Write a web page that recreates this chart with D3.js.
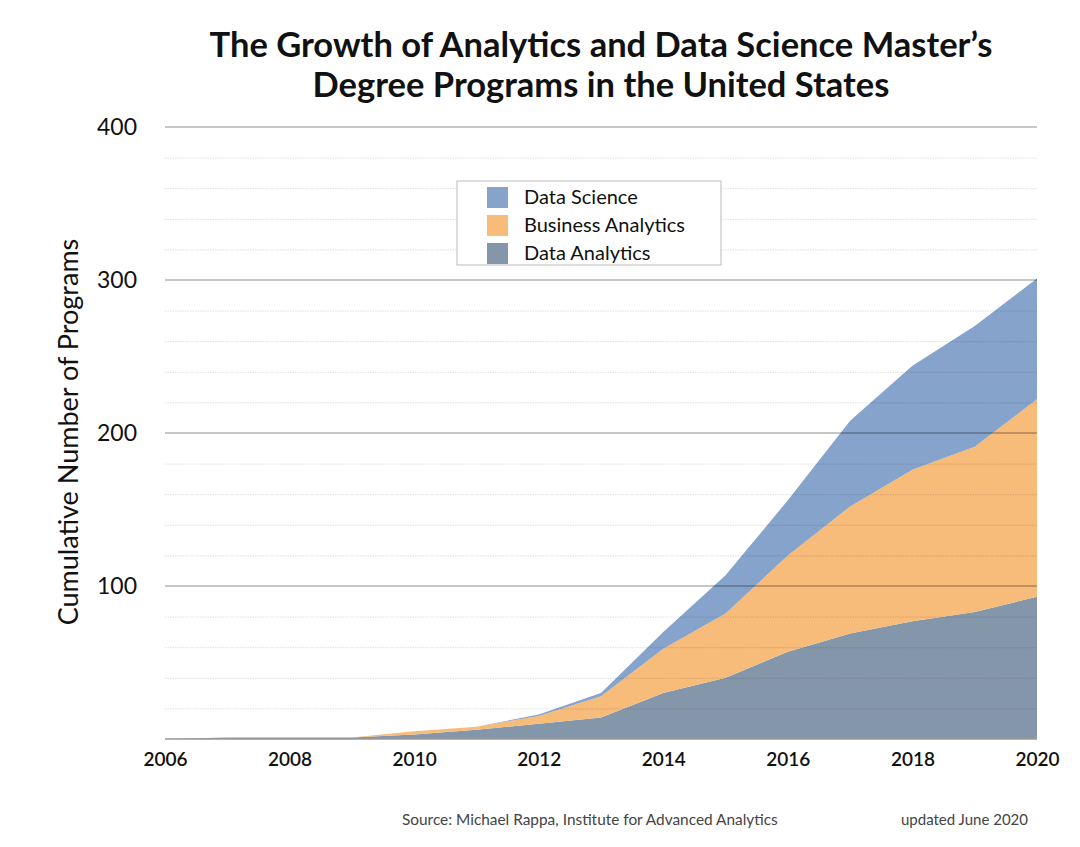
<!DOCTYPE html>
<html>
<head>
<meta charset="utf-8">
<script src="https://cdnjs.cloudflare.com/ajax/libs/d3/7.8.5/d3.min.js"></script>
<style>
  body { margin: 0; background: #fff; }
  svg { font-family: Lato, "Open Sans", sans-serif; }
</style>
</head>
<body>
<div id="chart"></div>
<script>
// cumulative program counts per year
var years = [2006, 2007, 2008, 2009, 2010, 2011, 2012, 2013, 2014, 2015, 2016, 2017, 2018, 2019, 2020];
var dataAnalytics     = [0, 1, 1, 1, 3, 6, 10, 14, 30, 40, 57, 69, 77, 83, 93];
var businessAnalytics = [0, 0, 0, 0, 2, 2, 5, 14, 29, 42, 63, 83, 99, 108, 129];
var dataScience       = [0, 0, 0, 0, 0, 0, 1, 2, 11, 25, 36, 56, 68, 79, 79];
var seriesNames = ["Data Analytics", "Business Analytics", "Data Science"];
var xTicks = [2006, 2008, 2010, 2012, 2014, 2016, 2018, 2020];
var yTicks = [100, 200, 300, 400];

var width = 1080,
    height = 847

var margin = { left: 165, right: 43, top: 127, bottom: 108 }

var svg = d3.select("#chart").append("svg")
    .attr("width", width)
    .attr("height", height)

var x = d3.scaleLinear()
    .domain([2006, 2020])
    .range([margin.left, width - margin.right])

var y = d3.scaleLinear()
    .domain([0, 400])
    .range([height - margin.bottom, margin.top])

var colors = {
    "Data Analytics": "#8496a9",
    "Business Analytics": "#f7bb7a",
    "Data Science": "#85a3cb"
}

var rows = years.map(function(yr, i) {
    return {
        year: yr,
        "Data Analytics": dataAnalytics[i],
        "Business Analytics": businessAnalytics[i],
        "Data Science": dataScience[i]
    }
})

var stacked = d3.stack().keys(seriesNames)(rows)

var area = d3.area()
    .x(function(d) { return x(d.data.year) })
    .y0(function(d) { return y(d[0]) })
    .y1(function(d) { return y(d[1]) })

svg.append("g")
  .selectAll("path")
  .data(stacked)
  .enter().append("path")
    .attr("fill", function(d) { return colors[d.key] })
    .attr("d", area)

// gridlines drawn on top so they show through the areas
var minor = d3.range(20, 400, 20).filter(function(v) { return v % 100 !== 0 })

svg.append("g")
  .selectAll("line")
  .data(minor)
  .enter().append("line")
    .attr("x1", x(2006))
    .attr("x2", x(2020))
    .attr("y1", function(d) { return y(d) + 0.5 })
    .attr("y2", function(d) { return y(d) + 0.5 })
    .attr("stroke", "#000")
    .attr("stroke-opacity", 0.13)
    .attr("stroke-dasharray", "1.5,1")

svg.append("g")
  .selectAll("line")
  .data(yTicks)
  .enter().append("line")
    .attr("x1", x(2006))
    .attr("x2", x(2020))
    .attr("y1", function(d) { return y(d) })
    .attr("y2", function(d) { return y(d) })
    .attr("stroke", "#000")
    .attr("stroke-opacity", 0.3)
    .attr("stroke-width", 1.5)

svg.append("line")
    .attr("x1", x(2006))
    .attr("x2", x(2020))
    .attr("y1", y(0))
    .attr("y2", y(0))
    .attr("stroke", "#999")
    .attr("stroke-width", 1.5)

// axes
var yAxis = svg.append("g")
    .attr("transform", "translate(" + (margin.left - 28) + ",0)")
    .call(d3.axisLeft(y).tickValues(yTicks).tickSize(0).tickPadding(0))
yAxis.select(".domain").remove()
yAxis.selectAll("text")
    .attr("font-size", 23)
    .attr("font-family", "Lato, sans-serif")
    .attr("fill", "#111")

var xAxis = svg.append("g")
    .attr("transform", "translate(0," + y(0) + ")")
    .call(d3.axisBottom(x).tickValues(xTicks).tickFormat(d3.format("d")).tickSize(0).tickPadding(14))
xAxis.select(".domain").remove()
xAxis.selectAll("text")
    .attr("font-size", 19)
    .attr("font-family", "Lato, sans-serif")
    .attr("font-weight", 600)
    .attr("fill", "#111")

svg.append("text")
    .attr("transform", "translate(78," + (y(200) - 1) + ") rotate(-90)")
    .attr("text-anchor", "middle")
    .attr("font-size", 27)
    .attr("fill", "#111")
    .text("Cumulative Number of Programs")

// title
var title = svg.append("text")
    .attr("text-anchor", "middle")
    .attr("font-size", 34.5)
    .attr("font-weight", 700)
    .attr("fill", "#111")
title.append("tspan").attr("x", 601).attr("y", 57)
    .text("The Growth of Analytics and Data Science Master\u2019s")
title.append("tspan").attr("x", 601).attr("y", 97)
    .text("Degree Programs in the United States")

// legend
var legend = svg.append("g")
    .attr("transform", "translate(457,181)")

legend.append("rect")
    .attr("width", 264)
    .attr("height", 84)
    .attr("fill", "#fff")
    .attr("stroke", "#bbb")

var legendKeys = seriesNames.slice().reverse()

var item = legend.selectAll("g")
    .data(legendKeys)
  .enter().append("g")
    .attr("transform", function(d, i) { return "translate(30," + (6 + i * 28) + ")" })

item.append("rect")
    .attr("width", 21)
    .attr("height", 21)
    .attr("fill", function(d) { return colors[d] })

item.append("text")
    .attr("x", 37)
    .attr("y", 17)
    .attr("font-size", 20)
    .attr("fill", "#111")
    .text(function(d) { return d })

// footer
svg.append("text")
    .attr("x", 402)
    .attr("y", 825)
    .attr("font-size", 15.4)
    .attr("fill", "#444")
    .text("Source: Michael Rappa, Institute for Advanced Analytics")

svg.append("text")
    .attr("x", 1028)
    .attr("y", 825)
    .attr("text-anchor", "end")
    .attr("font-size", 15)
    .attr("fill", "#444")
    .text("updated June 2020")
</script>
</body>
</html>
